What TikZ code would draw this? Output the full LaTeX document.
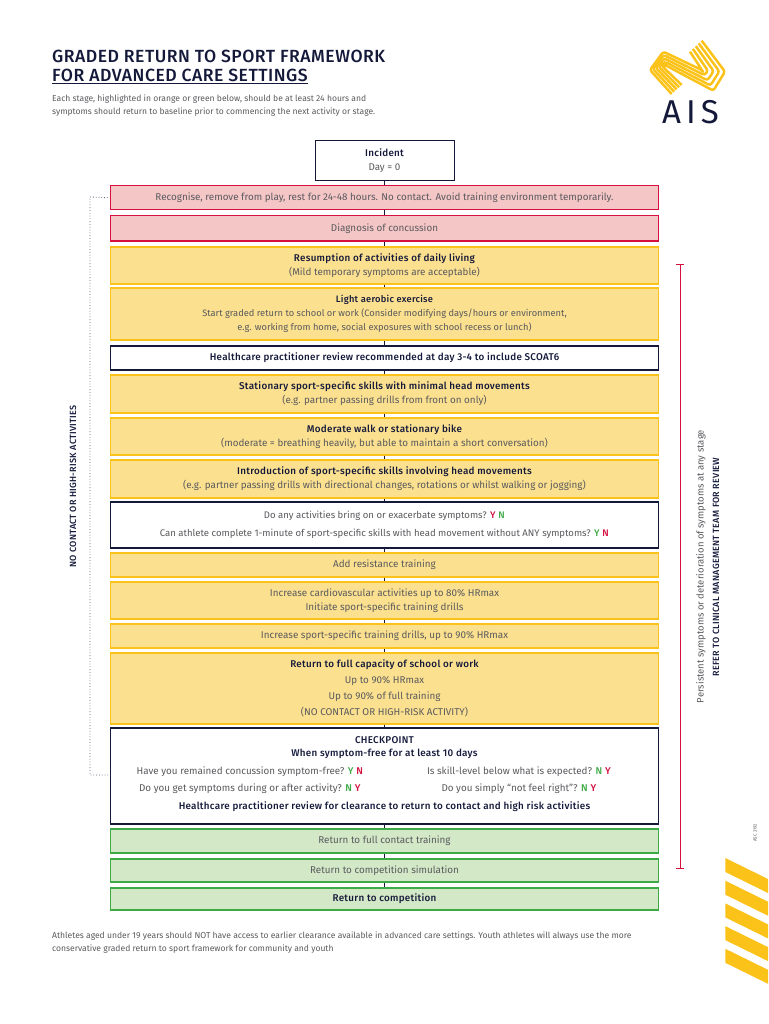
\documentclass[tikz,border=0pt]{standalone}
\usepackage{fontspec}
\setmainfont[BoldFont={Fira Sans Medium}, BoldFeatures={LetterSpace=2.8}]{Fira Sans}
\definecolor{navy}{HTML}{14193A}
\definecolor{greytext}{HTML}{5A5A5E}
\definecolor{redline}{HTML}{D5103F}
\definecolor{redfill}{HTML}{F5C6C6}
\definecolor{goldline}{HTML}{FBC21A}
\definecolor{goldfill}{HTML}{FBE08F}
\definecolor{greenline}{HTML}{3DAA45}
\definecolor{greenfill}{HTML}{D2E8C6}
\newcommand{\yesmark}[1]{\textcolor{greenline}{\textbf{#1}}}
\newcommand{\nomark}[1]{\textcolor{redline}{\textbf{#1}}}
\newcommand{\headtext}[1]{\textcolor{navy}{\bfseries #1}}
\tikzset{
  stage/.style={draw, line width=1.5pt, text=greytext, minimum width=548pt, anchor=north,
    align=center, inner sep=0pt, font=\fontsize{9.85}{14}\selectfont},
  redbox/.style={stage, draw=redline, fill=redfill},
  goldbox/.style={stage, draw=goldline, fill=goldfill},
  whitebox/.style={stage, draw=navy, fill=white},
  greenbox/.style={stage, draw=greenline, fill=greenfill},
  link/.style={navy, line width=0.8pt},
  linetext/.style={text=greytext, inner sep=0pt, font=\fontsize{9.85}{14}\selectfont}
}
\begin{document}
\begin{tikzpicture}[x=1pt, y=-1pt]
  \useasboundingbox (0,0) rectangle (768,1024);
  % heading
  \node[anchor=west, inner sep=0pt, text=navy, font=\fontsize{17.6}{22}\bfseries] (titleone) at (52,56) {GRADED RETURN TO SPORT FRAMEWORK};
  \node[anchor=west, inner sep=0pt, text=navy, font=\fontsize{17.6}{22}\bfseries] (titletwo) at (52,76) {\underline{FOR ADVANCED CARE SETTINGS}};
  \node[anchor=north west, inner sep=0pt, align=left, text=greytext, font=\fontsize{8.55}{12.8}\selectfont] (intro) at (52,94.5) {Each stage, highlighted in orange or green below, should be at least 24 hours and\\symptoms should return to baseline prior to commencing the next activity or stage.};
  % logo
  \begin{scope}[shift={(620,20)}, scale=0.3333]
    \foreach \t in {0,0.25,0.5,0.75,1}
      \draw[goldline, line width=2.5pt, rounded corners=2.5pt]
        ({155+30*\t},{222-27*\t}) -- ({90+35*\t},{150-13*\t}) -- ({130+5*\t},{95+40*\t})
        -- ({245+35*\t},{150+62*\t}) -- ({247+68*\t},{152+3*\t}) -- ({210+35*\t},{95-33*\t});
  \end{scope}
  \node[text=navy, inner sep=0pt, font=\fontsize{33}{33}\selectfont\addfontfeature{LetterSpace=15}] (logotext) at (690.5,112) {AIS};
  % stages
  \node[whitebox, line width=1pt, minimum width=139pt, minimum height=40pt] (incident) at (384.5,140) {\headtext{Incident}\\Day = 0};
  \node[redbox, minimum height=24pt] (recognise) at (384.5,185) {Recognise, remove from play, rest for 24-48 hours. No contact. Avoid training environment temporarily.};
  \node[redbox, minimum height=25pt] (diagnosis) at (384.5,215) {Diagnosis of concussion};
  \node[goldbox, minimum height=37pt] (daily) at (384.5,246) {\headtext{Resumption of activities of daily living}\\(Mild temporary symptoms are acceptable)};
  \node[goldbox, minimum height=52pt, font=\fontsize{9.3}{14}\selectfont] (aerobic) at (384.5,287) {\headtext{Light aerobic exercise}\\Start graded return to school or work (Consider modifying days/hours or environment,\\e.g. working from home, social exposures with school recess or lunch)};
  \node[whitebox, minimum height=24pt] (review) at (384.5,345) {\headtext{Healthcare practitioner review recommended at day 3-4 to include SCOAT6}};
  \node[goldbox, minimum height=38pt] (stationary) at (384.5,374) {\headtext{Stationary sport-specific skills with minimal head movements}\\(e.g. partner passing drills from front on only)};
  \node[goldbox, minimum height=37pt] (walk) at (384.5,417) {\headtext{Moderate walk or stationary bike}\\(moderate = breathing heavily, but able to maintain a short conversation)};
  \node[goldbox, minimum height=38pt] (skills) at (384.5,459) {\headtext{Introduction of sport-specific skills involving head movements}\\(e.g. partner passing drills with directional changes, rotations or whilst walking or jogging)};
  \node[whitebox, minimum height=46pt, font=\fontsize{9.55}{14}\selectfont] (question) at (384.5,501) {Do any activities bring on or exacerbate symptoms? \nomark{Y} \yesmark{N}\\[3.5pt]Can athlete complete 1-minute of sport-specific skills with head movement without ANY symptoms? \yesmark{Y} \nomark{N}};
  \node[goldbox, minimum height=24pt] (resist) at (384.5,552) {Add resistance training};
  \node[goldbox, minimum height=37pt] (cardio) at (384.5,581) {Increase cardiovascular activities up to 80\% HRmax\\Initiate sport-specific training drills};
  \node[goldbox, minimum height=24pt] (drills) at (384.5,623) {Increase sport-specific training drills, up to 90\% HRmax};
  \node[goldbox, minimum height=71pt] (capacity) at (384.5,652) {\headtext{Return to full capacity of school or work}\\[2pt]Up to 90\% HRmax\\[2pt]Up to 90\% of full training\\[2pt](NO CONTACT OR HIGH-RISK ACTIVITY)};
  \node[whitebox, minimum height=96pt] (checkpoint) at (384.5,727) {};
  \node[greenbox, minimum height=24pt] (contact) at (384.5,828) {Return to full contact training};
  \node[greenbox, minimum height=23pt] (simulation) at (384.5,858) {Return to competition simulation};
  \node[greenbox, minimum height=22pt] (competition) at (384.5,887) {\headtext{Return to competition}};
  % checkpoint text
  \node[linetext] (checkhead) at (384.5,740) {\headtext{CHECKPOINT}};
  \node[linetext] (checksub) at (384.5,754) {\headtext{When symptom-free for at least 10 days}};
  \node[linetext] (askfree) at (250,772) {Have you remained concussion symptom-free? \yesmark{Y} \nomark{N}};
  \node[linetext] (asksymptoms) at (250,789) {Do you get symptoms during or after activity? \yesmark{N} \nomark{Y}};
  \node[linetext] (askskill) at (519,772) {Is skill-level below what is expected? \yesmark{N} \nomark{Y}};
  \node[linetext] (askright) at (519,789) {Do you simply ``not feel right''? \yesmark{N} \nomark{Y}};
  \node[linetext] (clearance) at (384.5,807) {\headtext{Healthcare practitioner review for clearance to return to contact and high risk activities}};
  % links between stages
  \foreach \from/\to in {incident/recognise, recognise/diagnosis, diagnosis/daily, daily/aerobic, aerobic/review,
      review/stationary, stationary/walk, walk/skills, skills/question, question/resist, resist/cardio,
      cardio/drills, drills/capacity, capacity/checkpoint, checkpoint/contact, contact/simulation, simulation/competition}
    \draw[link] (\from) -- (\to);
  % left bracket
  \coordinate (dottop) at (90,197);
  \coordinate (dotbottom) at (90,775);
  \coordinate (dotend) at (108,775);
  \draw[navy!70, dotted, line width=0.8pt] ([xshift=-2pt]recognise.west) -- (dottop) -- (dotbottom) -- (dotend);
  \node[rotate=90, inner sep=0pt, text=navy, font=\fontsize{9}{10}\bfseries] (nocontact) at (73,486.5) {NO CONTACT OR HIGH-RISK ACTIVITIES};
  % right bracket
  \coordinate (reftop) at (680,264);
  \coordinate (refbottom) at (680,869);
  \draw[redline, line width=0.9pt, |-|] (reftop) -- (refbottom);
  \node[rotate=90, inner sep=0pt, text=greytext, font=\fontsize{9.5}{11}\selectfont] (persist) at (701,566.5) {Persistent symptoms or deterioration of symptoms at any stage};
  \node[rotate=90, inner sep=0pt, text=navy, font=\fontsize{9}{10}\bfseries] (refer) at (716,567) {REFER TO CLINICAL MANAGEMENT TEAM FOR REVIEW};
  \node[rotate=90, inner sep=0pt, text=greytext, font=\fontsize{4.5}{5}\selectfont] (code) at (755,833) {ASC 3192};
  % corner stripes
  \foreach \i in {0,...,4}
    \fill[goldline] (725.3,{858+22.7*\i}) -- (768,{879+22.7*\i}) -- (768,{893+22.7*\i}) -- (725.3,{872+22.7*\i}) -- cycle;
  % footnote
  \node[anchor=north west, inner sep=0pt, align=left, text=greytext, font=\fontsize{8.55}{12.5}\selectfont] (footnote) at (52,932) {Athletes aged under 19 years should NOT have access to earlier clearance available in advanced care settings. Youth athletes will always use the more\\conservative graded return to sport framework for community and youth};
\end{tikzpicture}
\end{document}
